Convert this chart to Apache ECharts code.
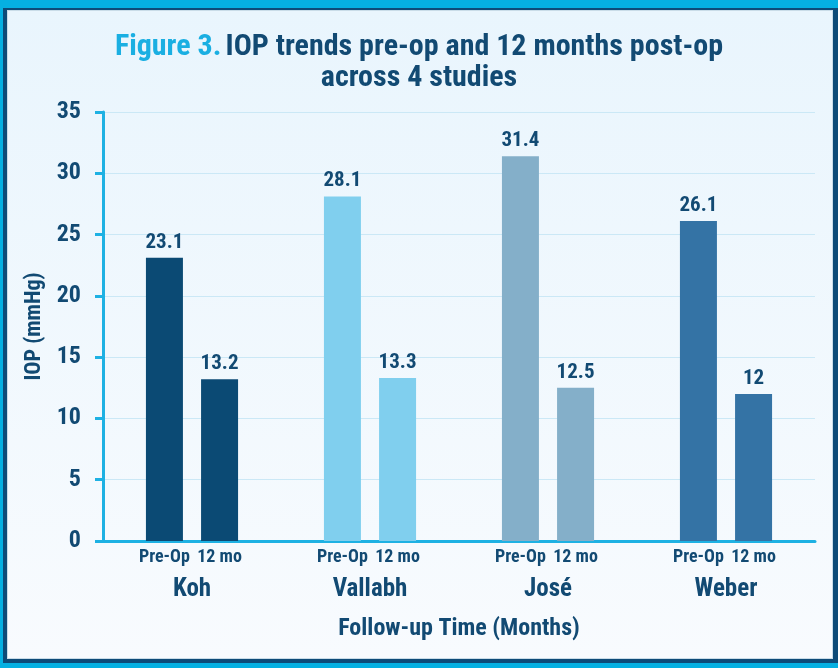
<!DOCTYPE html>
<html>
<head>
<meta charset="utf-8">
<script src="https://cdn.jsdelivr.net/npm/echarts@6/dist/echarts.min.js"></script>
<style>
  html, body { margin: 0; padding: 0; }
  body { width: 838px; height: 668px; background: #05b0e2; position: relative; overflow: hidden; }
  #frame { position: absolute; left: 3px; top: 8px; width: 826px; height: 649px;
           border-left: 4px solid #0d4b78; border-right: 5px solid #0d4b78;
           border-top: 2px solid #0d4b78; border-bottom: 4px solid #0d4b78;
           background: linear-gradient(#e9f5fd, #f8fbfe); box-shadow: inset 0 0 0 1px #c9dce8; }
  #chart { position: absolute; left: 0; top: 0; width: 838px; height: 668px; }
</style>
</head>
<body>
<div id="frame"></div>
<div id="chart"></div>
<script>
const studies = ['Koh', 'Vallabh', 'José', 'Weber'];
const seriesNames = ['Pre-Op', '12 mo'];
const preOp = [23.1, 28.1, 31.4, 26.1];
const month12 = [13.2, 13.3, 12.5, 12];
const studyColors = ['#0b4a74', '#80cfee', '#84afc9', '#3473a5'];
const yTicks = { min: 0, max: 35, interval: 5 };

const FONT = "'Liberation Sans Narrow', 'Arial Narrow', 'Roboto Condensed', 'Roboto', sans-serif";
const TXT = '#124a73';
const AXIS = '#1eb1e3';

const chart = echarts.init(document.getElementById('chart'), null, { renderer: 'canvas' });

function dataWithColors(vals) {
  return vals.map((v, i) => ({ value: v, itemStyle: { color: studyColors[i] } }));
}

const gridPos = { left: 103, right: 23, top: 112, bottom: 127 };

const option = {
  backgroundColor: 'transparent',
  textStyle: { fontFamily: FONT },
  title: {
    left: 'center',
    top: 27,
    text: '{a|Figure 3.} {b|IOP trends pre-op and 12 months post-op}\n{b|across 4 studies}',
    textStyle: {
      fontFamily: FONT,
      rich: {
        a: { color: '#1aafe2', fontSize: 30, fontWeight: 'bold', fontFamily: FONT, lineHeight: 31 },
        b: { color: TXT, fontSize: 30, fontWeight: 'bold', fontFamily: FONT, lineHeight: 31 }
      }
    }
  },
  grid: [Object.assign({}, gridPos), Object.assign({}, gridPos)],
  xAxis: [
    {
      type: 'category',
      gridIndex: 0,
      data: studies,
      name: 'Follow-up Time (Months)',
      nameLocation: 'middle',
      nameGap: 76,
      nameTextStyle: { color: TXT, fontSize: 24, fontWeight: 'bold', fontFamily: FONT },
      axisLine: { show: true, lineStyle: { color: AXIS, width: 3 } },
      axisTick: { show: false },
      axisLabel: { color: TXT, fontSize: 25, fontWeight: 'bold', fontFamily: FONT, margin: 36 },
      splitLine: { show: false }
    },
    {
      type: 'category',
      gridIndex: 1,
      data: studies,
      show: false
    }
  ],
  yAxis: [
    {
      type: 'value',
      gridIndex: 0,
      min: yTicks.min,
      max: yTicks.max,
      interval: yTicks.interval,
      name: 'IOP (mmHg)',
      nameLocation: 'middle',
      nameGap: 57,
      nameRotate: 90,
      nameTextStyle: { color: TXT, fontSize: 22, fontWeight: 'bold', fontFamily: FONT },
      axisLine: { show: true, lineStyle: { color: AXIS, width: 3 } },
      axisTick: { show: true, length: 8, lineStyle: { color: AXIS, width: 3 } },
      axisLabel: { color: TXT, fontSize: 24, fontWeight: 'bold', fontFamily: FONT, margin: 22 },
      splitLine: { show: true, lineStyle: { color: '#cbe8f6', width: 1 } }
    },
    {
      type: 'value',
      gridIndex: 1,
      min: yTicks.min,
      max: yTicks.max,
      interval: yTicks.interval,
      show: false
    }
  ],
  series: [
    {
      name: seriesNames[0],
      type: 'bar',
      xAxisIndex: 0, yAxisIndex: 0,
      barWidth: 37, barGap: '49%',
      data: dataWithColors(preOp),
      label: { show: true, position: 'top', distance: 5, color: TXT, fontSize: 21, fontWeight: 'bold', fontFamily: FONT }
    },
    {
      name: seriesNames[1],
      type: 'bar',
      xAxisIndex: 0, yAxisIndex: 0,
      barWidth: 37, barGap: '49%',
      data: dataWithColors(month12),
      label: { show: true, position: 'top', distance: 5, color: TXT, fontSize: 21, fontWeight: 'bold', fontFamily: FONT }
    },
    {
      name: seriesNames[0] + ' label',
      type: 'bar',
      xAxisIndex: 1, yAxisIndex: 1,
      barWidth: 37, barGap: '49%',
      silent: true,
      itemStyle: { color: 'rgba(0,0,0,0)' },
      data: preOp,
      label: { show: true, position: 'bottom', distance: 7, formatter: () => seriesNames[0], color: TXT, fontSize: 18, fontWeight: 'bold', fontFamily: FONT }
    },
    {
      name: seriesNames[1] + ' label',
      type: 'bar',
      xAxisIndex: 1, yAxisIndex: 1,
      barWidth: 37, barGap: '49%',
      silent: true,
      itemStyle: { color: 'rgba(0,0,0,0)' },
      data: month12,
      label: { show: true, position: 'bottom', distance: 7, formatter: () => seriesNames[1], color: TXT, fontSize: 18, fontWeight: 'bold', fontFamily: FONT }
    }
  ]
};

chart.setOption(option);
</script>
</body>
</html>
